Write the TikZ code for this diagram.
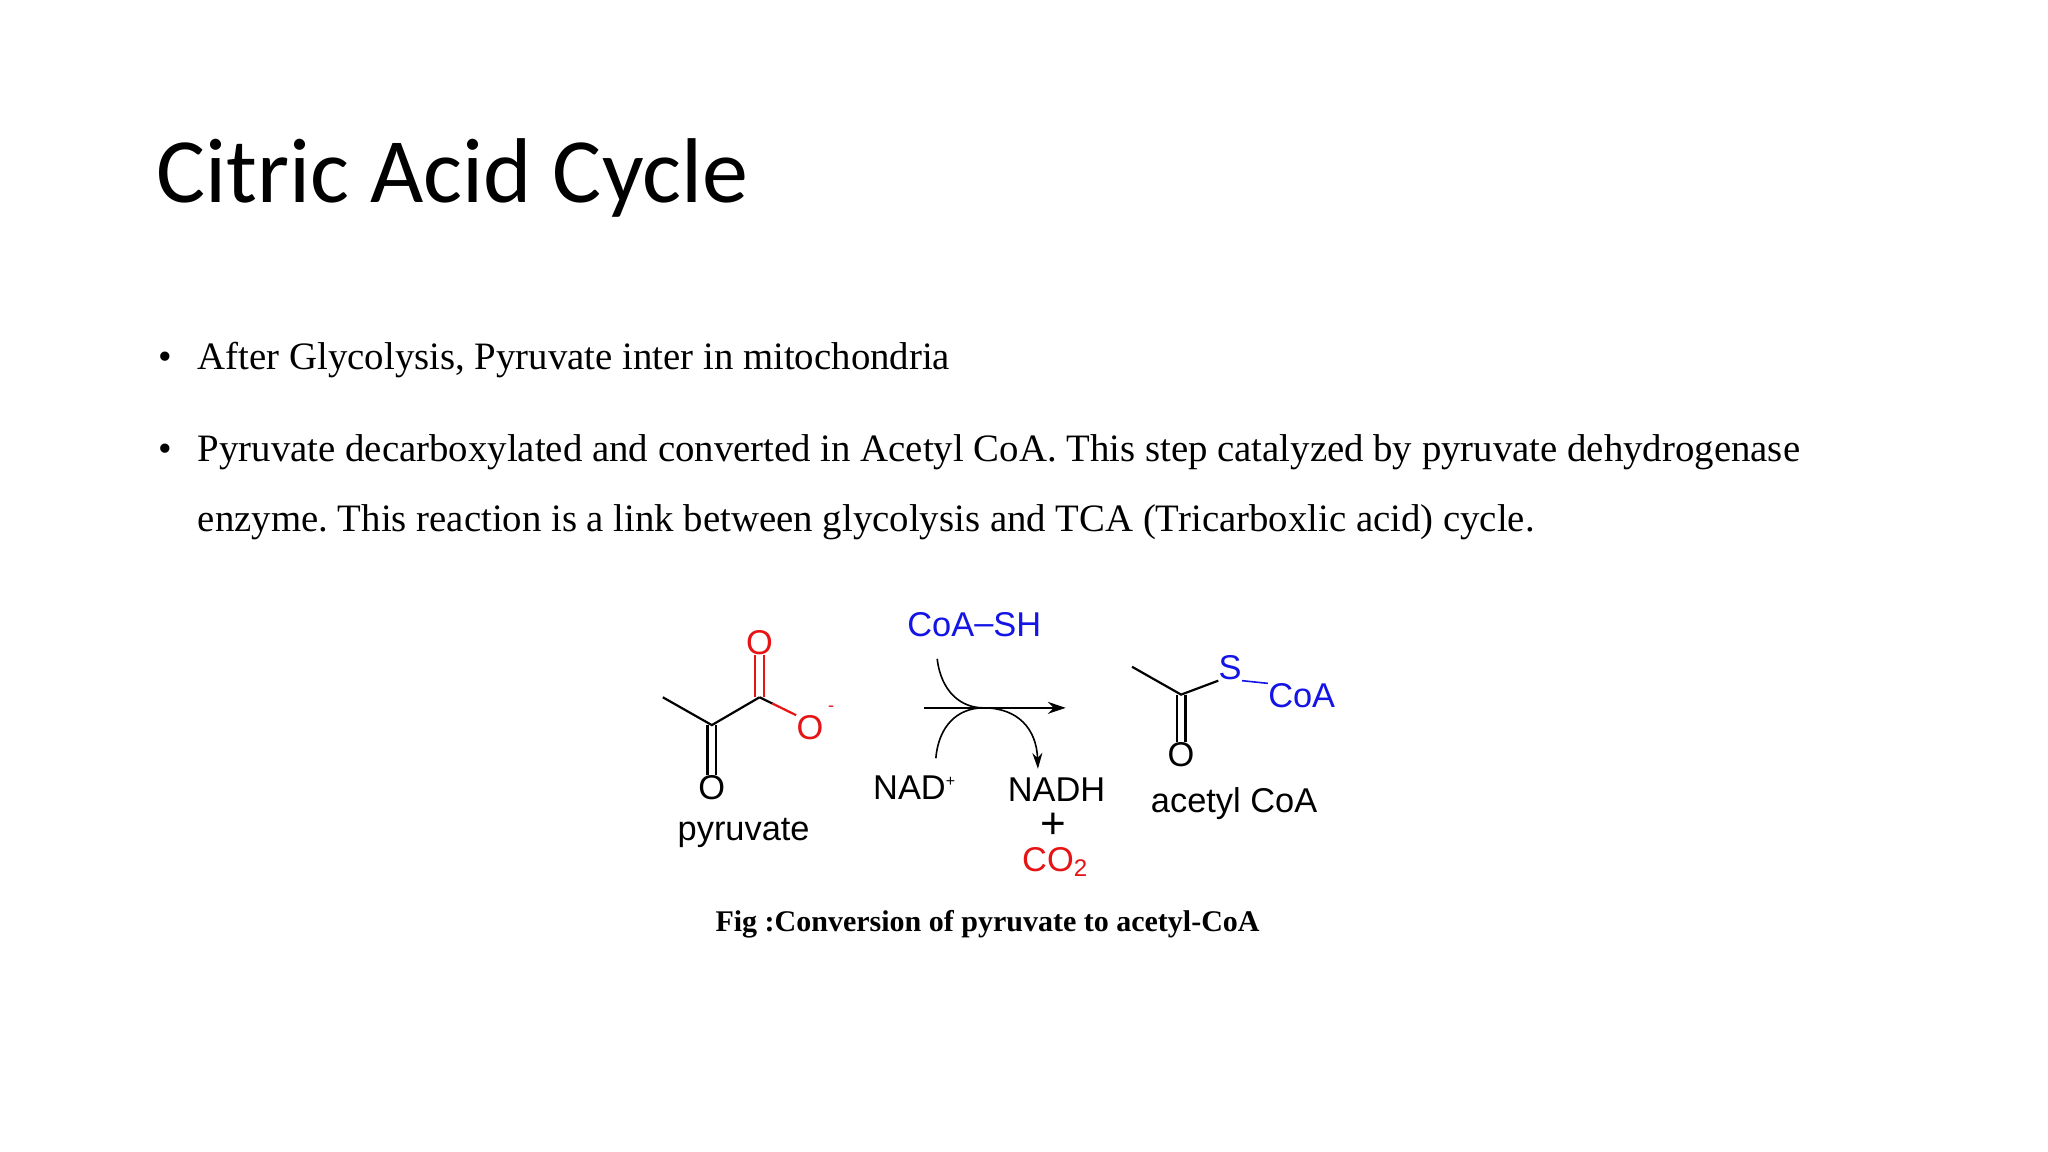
\documentclass[tikz,border=0pt]{standalone}
\usepackage{fontspec}
\setmainfont{Liberation Serif}
\newfontfamily\titlefont{Carlito}
\newfontfamily\chemfont{Liberation Sans}
\usetikzlibrary{arrows.meta,calc}
\definecolor{chred}{RGB}{230,20,20}
\definecolor{chblue}{RGB}{20,20,230}
\frenchspacing
\tikzset{
  body/.style={anchor=base west,inner sep=0pt,font=\fontsize{19.4}{22}\selectfont},
  chem/.style={inner sep=0pt,font=\chemfont\fontsize{17.2}{18}\selectfont},
  bond/.style={line width=1.1pt,black},
}
\begin{document}
\begin{tikzpicture}[x=0.66275pt,y=-0.66275pt]
\useasboundingbox[fill=white] (0,0) rectangle (1545,869);
\node[anchor=base west,inner sep=0pt,font=\titlefont\fontsize{46}{50}\selectfont] (title) at (118,153) {Citric Acid Cycle};
\node[body] (b1) at (119,279) {•};
\node[body] (t1) at (149,279) {After Glycolysis, Pyruvate inter in mitochondria};
\node[body] (b2) at (119,348) {•};
\node[body] (t2) at (149,348) {Pyruvate decarboxylated and converted in Acetyl CoA. This step catalyzed by pyruvate dehydrogenase};
\node[body] (t3) at (149,401) {enzyme. This reaction is a link between glycolysis and TCA (Tricarboxlic acid) cycle.};
% pyruvate
\coordinate (m1) at (500,526);
\coordinate (c2) at (537,547);
\coordinate (c1) at (573,526);
\node[chem,text=chred] (o1) at (573,485) {O};
\node[chem,text=chred] (o2) at (611,549) {O};
\node[chem,text=chred,font=\chemfont\fontsize{9}{10}\selectfont] (minus) at (627,535) {-};
\node[chem] (o3) at (537,594) {O};
\node[chem] (pyr) at (561,628) {pyruvate};
\draw[bond] (m1) -- (c2) -- (c1);
\draw[bond,chred] ([xshift=-2.2]c1) -- ([xshift=-2.2]o1.south);
\draw[bond,chred] ([xshift=2.2]c1) -- ([xshift=2.2]o1.south);
\draw[bond] (c1) -- ($(c1)!0.35!(o2.north west)$) coordinate (hm);
\draw[bond,chred] (hm) -- (o2.north west);
\draw[bond] ([xshift=-2.2]c2) -- ([xshift=-2.2]o3.north);
\draw[bond] ([xshift=2.2]c2) -- ([xshift=2.2]o3.north);
% reaction arrow
\coordinate (as) at (697,534);
\coordinate (ae) at (804,534);
\coordinate (j) at (742,534);
\draw[line width=1.1pt,-{Stealth[length=9pt,width=6pt]}] (as) -- (ae);
\node[chem,text=chblue] (coash) at (735,471) {CoA\raisebox{0.1ex}{–}SH};
\node[chem] (nad) at (690,594) {NAD\textsuperscript{\fontsize{8}{8}\selectfont +}};
\node[chem] (nadh) at (797,596) {NADH};
\node[chem,font=\chemfont\fontsize{22}{22}\selectfont] (plus) at (795,623) {+};
\node[chem,text=chred] (co2) at (796,650) {CO\textsubscript{2}};
\draw[line width=0.8pt] (707,497) .. controls (710,522) and (725,534) .. (j);
\draw[line width=0.8pt] (706,572) .. controls (708,548) and (722,534) .. (j);
\draw[line width=0.8pt,-{Stealth[length=8pt,width=5pt]}] (j) .. controls (768,534) and (782,550) .. (783,580);
% acetyl CoA
\coordinate (m2) at (854,503);
\coordinate (c3) at (891,524);
\node[chem,text=chblue] (s) at (928,504) {S};
\node[chem,text=chblue] (coa) at (982,525) {CoA};
\node[chem] (o4) at (891,569) {O};
\node[chem] (acoa) at (931,606) {acetyl CoA};
\draw[bond] (m2) -- (c3) -- (s.south west);
\draw[line width=0.8pt,chblue] (s.south east) -- (coa.north west);
\draw[bond] ([xshift=-2.2]c3) -- ([xshift=-2.2]o4.north);
\draw[bond] ([xshift=2.2]c3) -- ([xshift=2.2]o4.north);
\node[inner sep=0pt,font=\bfseries\fontsize{15}{16}\selectfont] (cap) at (745,697) {Fig :Conversion of pyruvate to acetyl-CoA};
\end{tikzpicture}
\end{document}
